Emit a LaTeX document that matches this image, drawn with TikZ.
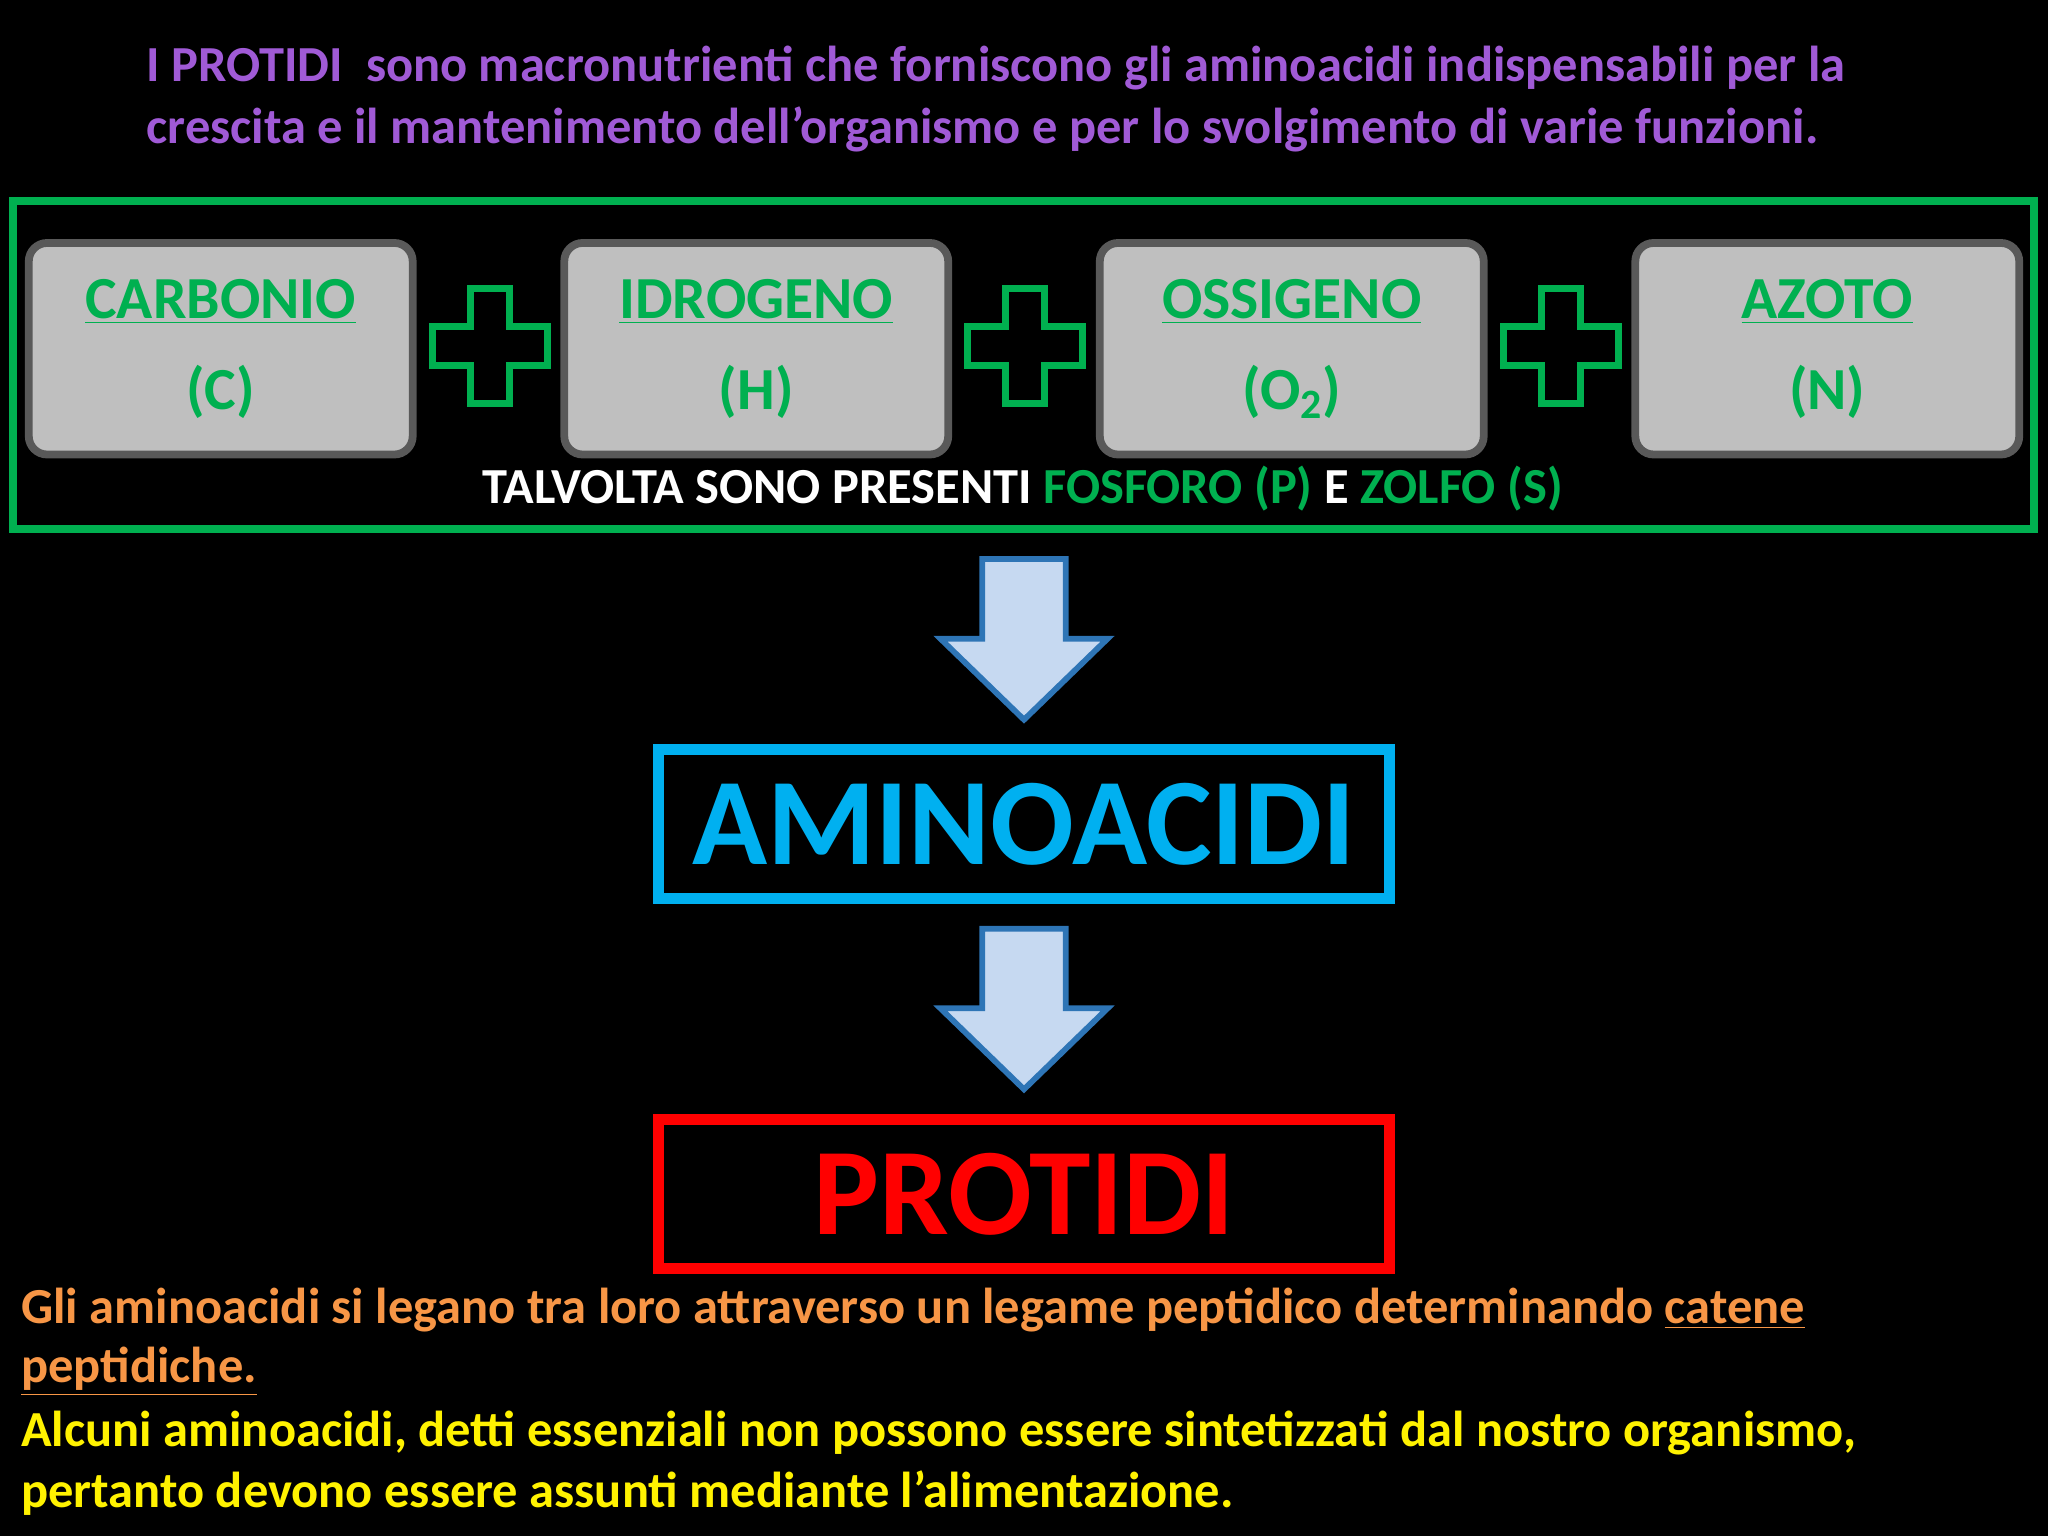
\documentclass[tikz,border=0pt]{standalone}
\usepackage{fontspec}
\setmainfont{Carlito}
\usetikzlibrary{shapes.geometric}
\definecolor{purp}{HTML}{A05AD6}
\definecolor{grn}{HTML}{00B050}
\definecolor{gbox}{HTML}{BFBFBF}
\definecolor{gedge}{HTML}{595959}
\definecolor{arrf}{HTML}{C6D9F1}
\definecolor{arre}{HTML}{2E75B6}
\definecolor{cyn}{HTML}{00B0F0}
\definecolor{orng}{HTML}{F79646}
\tikzset{
 elem/.style={draw=gedge,fill=gbox,line width=3.4pt,rounded corners=8pt,minimum width=5.88cm,minimum height=3.24cm},
 eltxt/.style={text=grn,font=\bfseries\fontsize{26}{30}\selectfont},
 plus/.style={draw=grn,line width=3pt,fill=black},
 bigarrow/.style={draw=arre,fill=arrf,line width=2.5pt,line join=miter},
 bigbox/.style={line width=5pt,minimum width=11.2cm,minimum height=2.28cm,font=\bfseries\fontsize{54}{58}\selectfont},
 para/.style={anchor=west,inner sep=0pt,font=\bfseries\fontsize{22}{26}\selectfont}
}
\begin{document}
\begin{tikzpicture}[x=0.02cm,y=-0.02cm]
\fill[black] (0,0) rectangle (1568,1176);
\useasboundingbox (0,0) rectangle (1568,1176);
\node[para,text=purp] (t1) at (112,52) {I PROTIDI\ \ sono macronutrienti che forniscono gli aminoacidi indispensabili per la};
\node[para,text=purp] (t2) at (112,99) {crescita e il mantenimento dell’organismo e per lo svolgimento di varie funzioni.};
\draw[grn,line width=3.4pt] (10,154) rectangle (1557,405);
\foreach \cx/\nm/\f [count=\i] in {169/CARBONIO/(C),579/IDROGENO/(H),989/OSSIGENO/(O\textsubscript{2}),1399/AZOTO/(N)}{
 \node[elem] (b\i) at (\cx,267) {};
 \node[eltxt] (n\i) at (\cx,231) {\underline{\nm}};
 \node[eltxt] (f\i) at (\cx,300) {\f};
}
\foreach \cx in {375,785,1195}{
 \draw[plus] (\cx-15,265-44) -- (\cx+15,265-44) -- (\cx+15,265-15) -- (\cx+44,265-15) -- (\cx+44,265+15) -- (\cx+15,265+15) -- (\cx+15,265+44) -- (\cx-15,265+44) -- (\cx-15,265+15) -- (\cx-44,265+15) -- (\cx-44,265-15) -- (\cx-15,265-15) -- cycle;
}
\node[font=\bfseries\fontsize{22}{26}\selectfont,text=white] (tal) at (783,374) {TALVOLTA SONO PRESENTI \textcolor{grn}{FOSFORO (P)} E \textcolor{grn}{ZOLFO (S)}};
\draw[bigarrow] (752,428) -- (816,428) -- (816,489) -- (848,489) -- (784,551) -- (720,489) -- (752,489) -- cycle;
\node[bigbox,draw=cyn,text=cyn] (amino) at (784,631) {AMINOACIDI};
\draw[bigarrow] (752,711) -- (816,711) -- (816,772) -- (848,772) -- (784,834) -- (720,772) -- (752,772) -- cycle;
\node[bigbox,draw=red,text=red] (prot) at (784,914) {PROTIDI};
\node[para,text=orng] (o1) at (16,1003) {Gli aminoacidi si legano tra loro attraverso un legame peptidico determinando \underline{catene}};
\node[para,text=orng] (o2) at (16,1050) {\underline{peptidiche.}};
\node[para,text=yellow] (y1) at (16,1097) {Alcuni aminoacidi, detti essenziali non possono essere sintetizzati dal nostro organismo,};
\node[para,text=yellow] (y2) at (16,1143) {pertanto devono essere assunti mediante l’alimentazione.};
\end{tikzpicture}
\end{document}
